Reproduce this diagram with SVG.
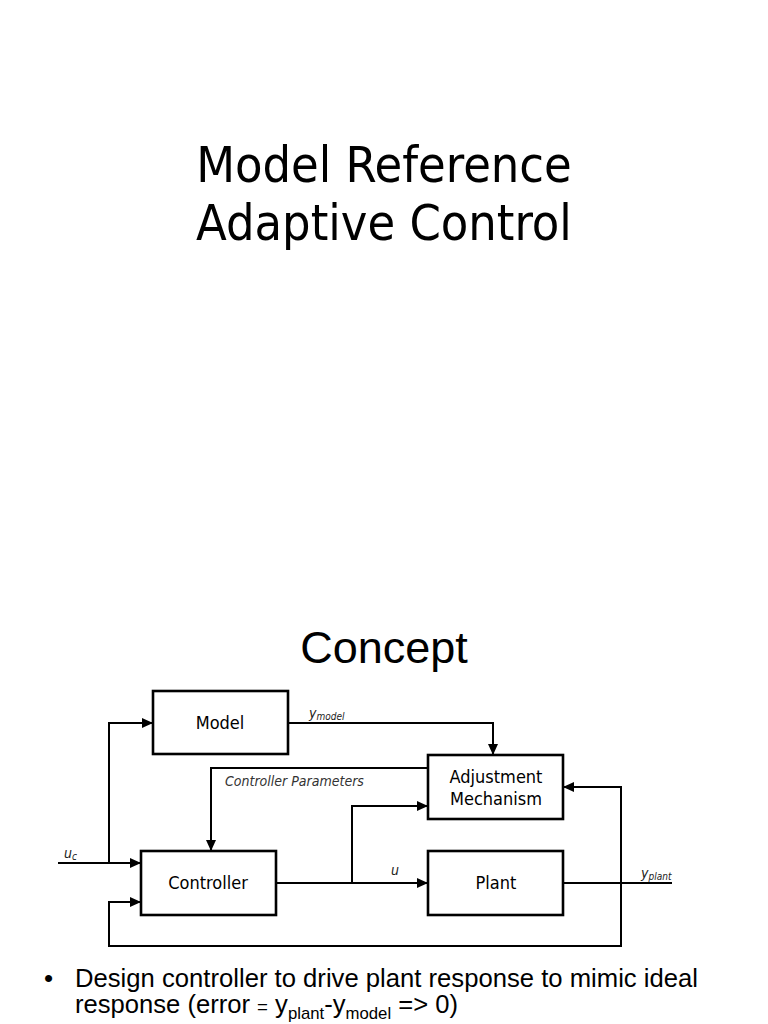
<svg xmlns="http://www.w3.org/2000/svg" width="768" height="1024" viewBox="0 0 768 1024">
<defs>
<style>
.title{font-family:"DejaVu Sans Condensed","DejaVu Sans",sans-serif;font-size:50px;fill:#000;text-anchor:middle}
.head{font-family:"Liberation Sans",Arial,sans-serif;font-size:45px;fill:#000;text-anchor:middle}
.box{fill:#fff;stroke:#000;stroke-width:2.6}
.lbl{font-family:"DejaVu Sans Condensed","DejaVu Sans",sans-serif;font-size:18px;fill:#000;text-anchor:middle}
.sig{font-family:"DejaVu Sans Condensed","DejaVu Sans",sans-serif;font-style:italic;font-size:14px;fill:#222}
.sub{font-size:10px}
.par{font-family:"DejaVu Sans Condensed","DejaVu Sans",sans-serif;font-style:italic;font-size:14px;fill:#333}
.wire{fill:none;stroke:#000;stroke-width:2}
.bul{font-family:"Liberation Sans",Arial,sans-serif;font-size:26px;fill:#000}
.bsub{font-size:17px}
</style>
<marker id="arr" markerUnits="userSpaceOnUse" markerWidth="12" markerHeight="11" refX="11" refY="5" orient="auto">
<path d="M0,0 L11,5 L0,10 z" fill="#000"/>
</marker>
</defs>
<rect width="768" height="1024" fill="#fff"/>
<g id="title">
<text class="title" x="384" y="182">Model Reference</text>
<text class="title" x="384" y="240">Adaptive Control</text>
</g>
<text class="head" x="384" y="663">Concept</text>

<g id="connectors">
<path class="wire" d="M58,863 H141" marker-end="url(#arr)"/>
<path class="wire" d="M109,863 V723 H153" marker-end="url(#arr)"/>
<path class="wire" d="M288,723 H493 V755" marker-end="url(#arr)"/>
<path class="wire" d="M428,768 H211 V851" marker-end="url(#arr)"/>
<path class="wire" d="M276,883 H428" marker-end="url(#arr)"/>
<path class="wire" d="M352,883 V806 H428" marker-end="url(#arr)"/>
<path class="wire" d="M563,883 H672"/>
<path class="wire" d="M621,946 V787 H563" marker-end="url(#arr)"/>
<path class="wire" d="M621,883 V946 H109 V902 H141" marker-end="url(#arr)"/>
</g>

<g id="model">
<rect class="box" x="153" y="691" width="135" height="63"/>
<text class="lbl" x="220" y="729">Model</text>
</g>
<g id="adjustment">
<rect class="box" x="428" y="755" width="135" height="64"/>
<text class="lbl" x="496" y="783">Adjustment</text>
<text class="lbl" x="496" y="805">Mechanism</text>
</g>
<g id="controller">
<rect class="box" x="141" y="851" width="135" height="64"/>
<text class="lbl" x="208" y="889">Controller</text>
</g>
<g id="plant">
<rect class="box" x="428" y="851" width="135" height="64"/>
<text class="lbl" x="496" y="889">Plant</text>
</g>

<g id="labels">
<text class="sig" x="64" y="858">u<tspan class="sub" dy="2">c</tspan></text>
<text class="sig" x="391" y="875">u</text>
<text class="sig" x="309" y="718">y<tspan class="sub" dy="2">model</tspan></text>
<text class="sig" x="641" y="878">y<tspan class="sub" dy="2">plant</tspan></text>
<text class="par" x="225" y="786">Controller Parameters</text>
</g>

<g id="bullet">
<text class="bul" x="44" y="987">•</text>
<text class="bul" x="75" y="987" textLength="623" lengthAdjust="spacingAndGlyphs">Design controller to drive plant response to mimic ideal</text>
<text class="bul" x="75" y="1013" textLength="383" lengthAdjust="spacingAndGlyphs">response (error <tspan font-size="19px">=</tspan> y<tspan class="bsub" dy="6">plant</tspan><tspan dy="-6">-y</tspan><tspan class="bsub" dy="6">model</tspan><tspan dy="-6"> =&gt; 0)</tspan></text>
</g>
</svg>
